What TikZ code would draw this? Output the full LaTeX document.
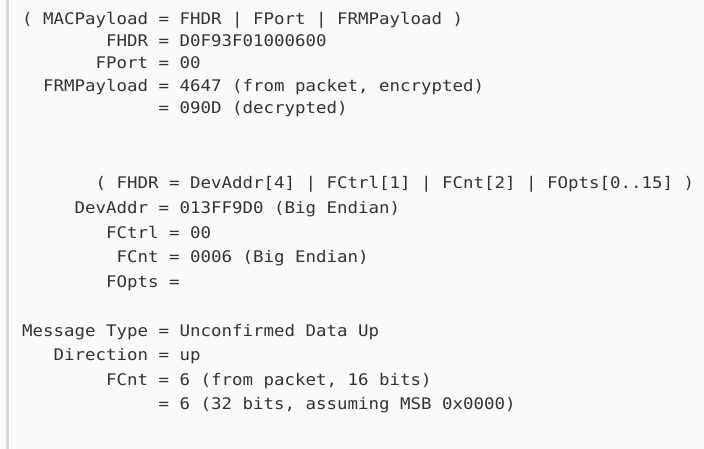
\documentclass[tikz,border=0pt]{standalone}
\usepackage{fontspec}
\newfontfamily\codefont[FakeStretch=1.09]{DejaVu Sans Mono}
\definecolor{txt}{HTML}{333333}
\definecolor{bg}{HTML}{FAFAFA}
\definecolor{bar}{HTML}{D8D8D8}
\begin{document}
\begin{tikzpicture}[x=1pt,y=-1pt,
  ln/.style={anchor=base west,inner sep=0pt,text=txt,font=\codefont\fontsize{16}{16}\selectfont}]
\useasboundingbox (0,0) rectangle (704,449);
\fill[bg] (0,0) rectangle (704,449);
\fill[bar] (6,0) rectangle (9,449);
\def\cw{10.5}
\foreach \c/\y/\t [count=\i] in {
 0/20/{( MACPayload = FHDR | FPort | FRMPayload )},
 8/42/{FHDR = D0F93F01000600},
 7/64/{FPort = 00},
 2/87/{FRMPayload = 4647 (from packet, encrypted)},
 13/109/{= 090D (decrypted)},
 7/184/{( FHDR = DevAddr[4] | FCtrl[1] | FCnt[2] | FOpts[0..15] )},
 5/209/{DevAddr = 013FF9D0 (Big Endian)},
 8/233/{FCtrl = 00},
 9/257/{FCnt = 0006 (Big Endian)},
 8/282/{FOpts =},
 0/331/{Message Type = Unconfirmed Data Up},
 3/355/{Direction = up},
 8/380/{FCnt = 6 (from packet, 16 bits)},
 13/404/{= 6 (32 bits, assuming MSB 0x0000)}}
 \node[ln] (l\i) at (22+\c*\cw,\y+5) {\t};
\end{tikzpicture}
\end{document}
